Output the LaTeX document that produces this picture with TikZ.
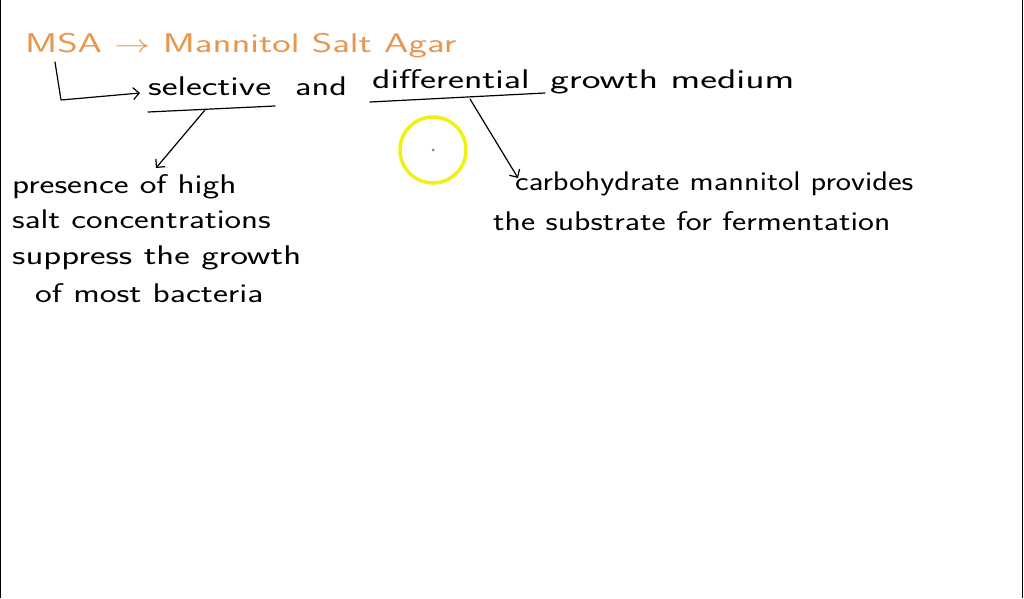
\documentclass[tikz,border=0pt]{standalone}
\usetikzlibrary{positioning,arrows.meta}
\definecolor{penorange}{RGB}{232,150,78}
\definecolor{markyellow}{RGB}{240,240,20}
\newcommand{\widen}[2]{\scalebox{#1}[1]{#2}}
\tikzset{
  hand/.style={font=\fontsize{27}{32}\selectfont\sffamily, anchor=base west, inner sep=0pt},
  pen/.style={line width=1.2pt, line cap=round, line join=round},
  >={Straight Barb[length=6pt,width=12pt]},
}
\begin{document}
\begin{tikzpicture}[x=1pt,y=-1pt]
  \useasboundingbox (0,0) rectangle (1024,598);
  \draw[very thick] (0.5,0)--(0.5,598); %left edge
  \draw[very thick] (1022.5,0)--(1022.5,598); %right edge

  \node[hand,text=penorange] (title) at (25,52) {\widen{1.45}{MSA $\rightarrow$ Mannitol Salt Agar}};

  \node[hand] (sel) at (148,95) {\widen{1.4}{selective}};
  \node[hand] (and) at (295,95) {\widen{1.35}{and}};
  \node[hand] (diff) at (372,88) {\widen{1.41}{differential}};
  \node[hand] (grow) at (550,88) {\widen{1.48}{growth medium}};

  \node[hand] (l1) at (12,193) {\widen{1.31}{presence of high}};
  \node[hand] (l2) at (12,228) {\widen{1.3}{salt concentrations}};
  \node[hand] (l3) at (12,264) {\widen{1.37}{suppress the growth}};
  \node[hand] (l4) at (35,302) {\widen{1.32}{of most bacteria}};

  \node[hand] (r1) at (515,190) {\widen{1.2}{carbohydrate mannitol provides}};
  \node[hand] (r2) at (493,230) {\widen{1.25}{the substrate for fermentation}};

  \coordinate (top) at (55,62); \coordinate (bend) at (61,100);
  \coordinate (selA) at (148,112); \coordinate (selB) at (275,106);
  \coordinate (difA) at (370,102); \coordinate (difB) at (545,93);
  \coordinate (selarr) at (205,110); \coordinate (diffarr) at (470,99);
  \coordinate (lhead) at (156,168); \coordinate (rhead) at (518,178);

  \draw[pen,->] (top)--(bend)--(140,93); %L arrow
  \draw[pen] (selA)--(selB);
  \draw[pen] (difA)--(difB);
  \draw[pen,->] (selarr)--(lhead);
  \draw[pen,->] (diffarr)--(rhead);

  \node[draw=markyellow,line width=3.5pt,circle,minimum size=66pt] (cursor) at (433,150) {};
  \fill[gray] (cursor.center) circle (1.5pt);
\end{tikzpicture}
\end{document}
